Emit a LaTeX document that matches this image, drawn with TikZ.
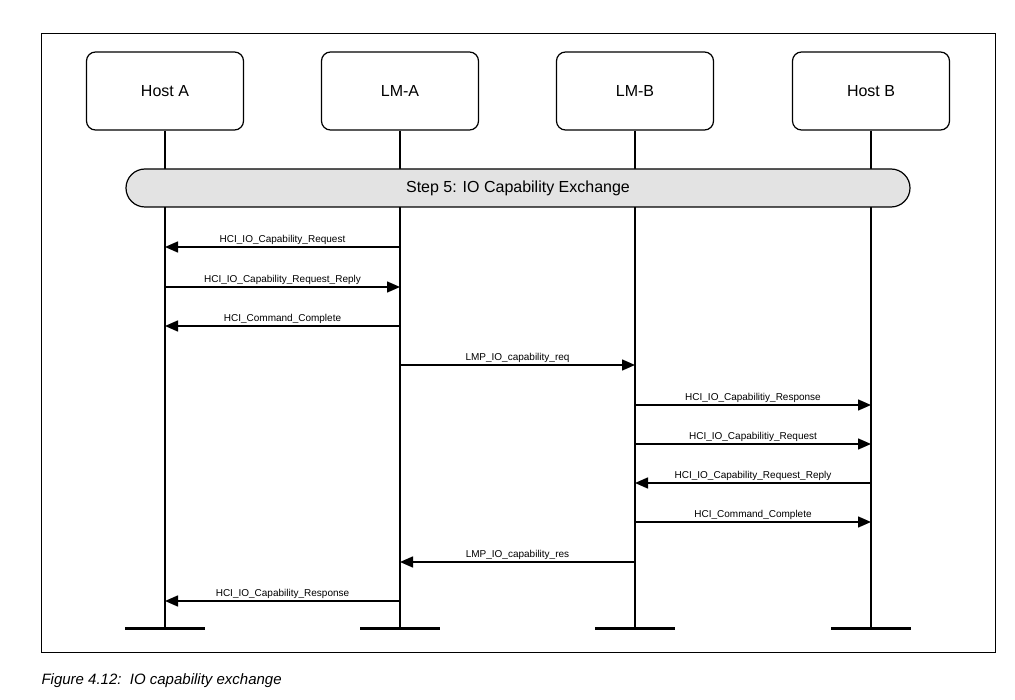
\documentclass[tikz,border=0pt]{standalone}
\usepackage{fontspec}
\setmainfont{Liberation Sans}
\usetikzlibrary{arrows.meta}
\begin{document}
\begin{tikzpicture}[x=1pt,y=-1pt,
  ent/.style={draw,line width=1.2pt,rounded corners=9pt,minimum width=157pt,minimum height=78pt,font=\fontsize{16}{18}\selectfont},
  life/.style={line width=2pt},
  msg/.style={line width=1.5pt,-{Triangle[length=13pt,width=11pt]}},
  lbl/.style={font=\fontsize{10}{12}\selectfont,above,inner sep=2pt}]
\useasboundingbox (0,0) rectangle (1015,700);
\draw[line width=0.6pt] (41,33) rectangle (995,652);
\foreach \n/\t/\x in {ha/Host A/165, la/LM-A/400, lb/LM-B/635, hb/Host B/871}{
  \node[ent] (\n) at (\x,91) {\t};
  \coordinate (\n e) at (\x,628);
  \draw[life] (\n) -- (\n e);
  \draw[line width=3pt] ([xshift=-40pt]\n e) -- ([xshift=40pt]\n e);
}
\node[draw,line width=1.2pt,fill=gray!22,rounded corners=19pt,minimum width=784pt,minimum height=38pt,font=\fontsize{16}{18}\selectfont] (step) at (518,188) {Step 5: IO Capability Exchange};
\foreach \y/\a/\b/\t in {247/la/ha/HCI\_IO\_Capability\_Request,
  287/ha/la/HCI\_IO\_Capability\_Request\_Reply,
  326/la/ha/HCI\_Command\_Complete,
  365/la/lb/LMP\_IO\_capability\_req,
  405/lb/hb/HCI\_IO\_Capabilitiy\_Response,
  444/lb/hb/HCI\_IO\_Capabilitiy\_Request,
  483/hb/lb/HCI\_IO\_Capability\_Request\_Reply,
  522/lb/hb/HCI\_Command\_Complete,
  562/lb/la/LMP\_IO\_capability\_res,
  601/la/ha/HCI\_IO\_Capability\_Response}{
  \coordinate (s) at (\a e |- 0,\y);
  \coordinate (t) at (\b e |- 0,\y);
  \draw[msg] (s) -- (t) node[lbl,midway] {\t};
}
\node[anchor=west,font=\itshape\fontsize{15}{18}\selectfont] (cap) at (38,681) {Figure 4.12:\ \ IO capability exchange};
\end{tikzpicture}
\end{document}
